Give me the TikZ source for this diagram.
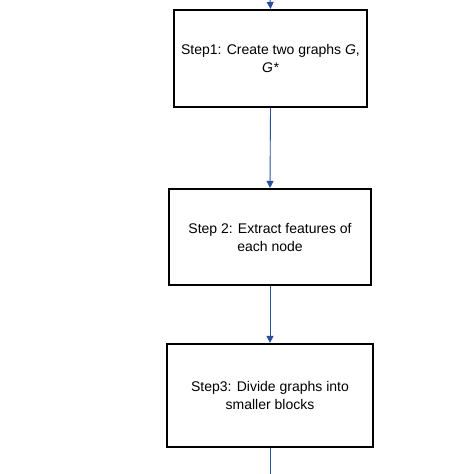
\documentclass[tikz,border=0pt]{standalone}
\usepackage{fontspec}
\setmainfont{Liberation Sans}
\usetikzlibrary{arrows.meta}
\definecolor{arrowblue}{HTML}{2A4F9A}
\tikzset{
  stepbox/.style={draw=black, line width=2.2pt, fill=white, inner sep=0pt, align=center, font=\fontsize{14}{18}\selectfont},
  flow/.style={draw=arrowblue, line width=0.9pt, -{Triangle[length=7pt,width=7pt]}},
  flowend/.style={draw=arrowblue, line width=0.9pt}
}
\begin{document}
\begin{tikzpicture}[x=1pt,y=-1pt]
\useasboundingbox[fill=white] (0,0) rectangle (474,474);
\node[stepbox, minimum width=193pt, minimum height=97pt] (s1) at (270.5,58.5) {Step1: Create two graphs \textit{G},\\ \textit{G*}};
\node[stepbox, minimum width=202pt, minimum height=96pt] (s2) at (270,237) {Step 2: Extract features of\\ each node};
\node[stepbox, minimum width=206pt, minimum height=103pt] (s3) at (270,395.5) {Step3: Divide graphs into\\ smaller blocks};
\coordinate (top) at (270,-2);
\coordinate (bot) at (270,476);
\draw[flow] (top) -- (s1.north);
\draw[flow] (s1.south) -- (s2.north);
\draw[flow] (s2.south) -- (s3.north);
\draw[flowend] (s3.south) -- (bot);
\end{tikzpicture}
\end{document}
